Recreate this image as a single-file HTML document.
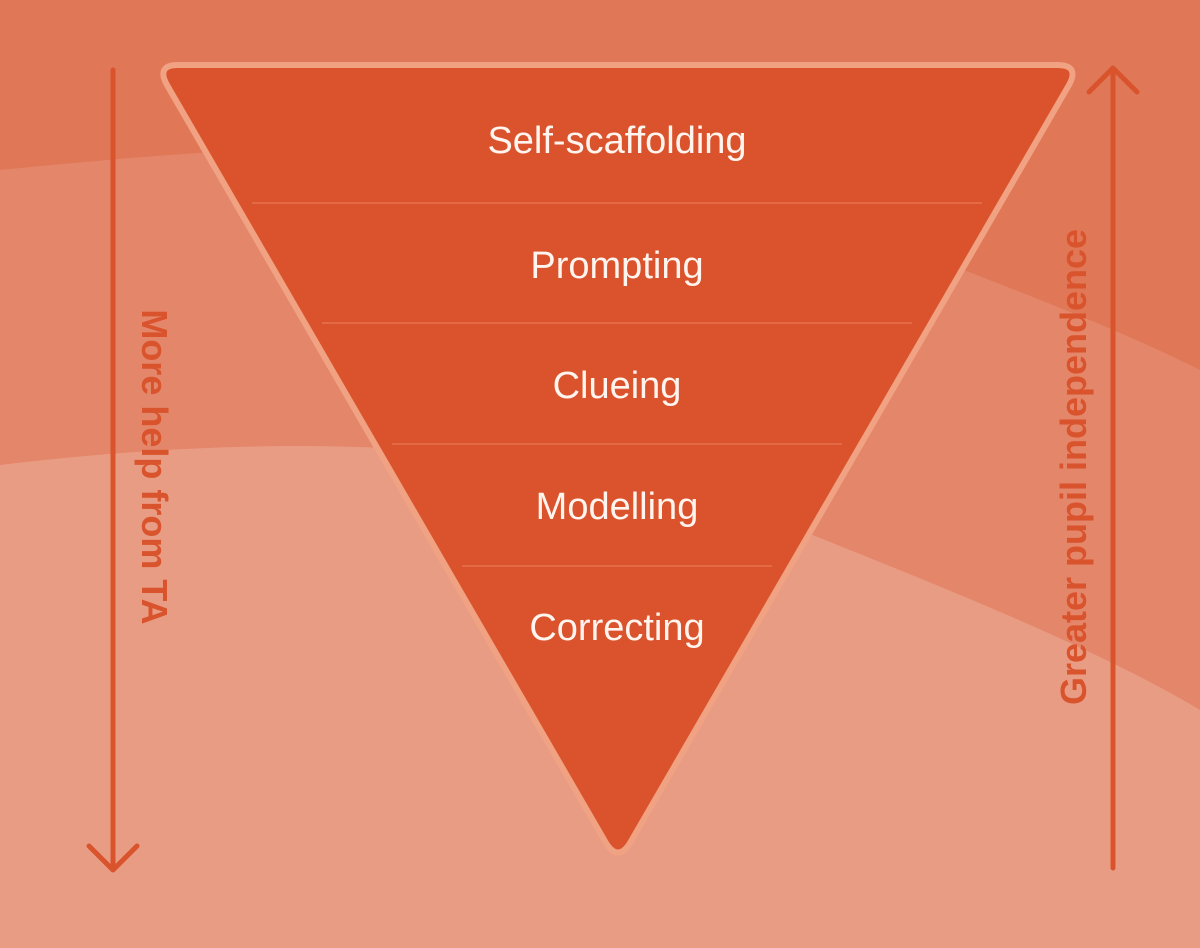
<!DOCTYPE html>
<html><head><meta charset="utf-8"><style>
html,body{margin:0;padding:0;width:1200px;height:948px;overflow:hidden;background:#e99c84}
svg{display:block}
</style></head><body>
<svg width="1200" height="948" viewBox="0 0 1200 948" xmlns="http://www.w3.org/2000/svg">
<rect width="1200" height="948" fill="#e99c84"/>
<path d="M0,465 C250,435 550,430 800,530 C950,590 1100,650 1200,710 L1200,0 L0,0 Z" fill="#e4866a"/>
<path d="M0,170 C300,140 600,120 900,245 C1000,285 1100,320 1200,370 L1200,0 L0,0 Z" fill="#e07757"/>
<path d="M178,65 L1057,65 Q1080,65 1069,85 L630,843 Q618,862 606,843 L167,85 Q156,65 178,65 Z" fill="#da532c" stroke="#f0a283" stroke-width="6" stroke-linejoin="round"/>
<g stroke="#e36a45" stroke-width="2">
<line x1="252" y1="203" x2="982" y2="203"/>
<line x1="322" y1="323" x2="912" y2="323"/>
<line x1="392" y1="444" x2="842" y2="444"/>
<line x1="462" y1="566" x2="772" y2="566"/>
</g>
<g fill="#fff4ee" font-family="Liberation Sans, sans-serif" font-size="38" text-anchor="middle">
<text x="617" y="153">Self-scaffolding</text>
<text x="617" y="278">Prompting</text>
<text x="617" y="398">Clueing</text>
<text x="617" y="519">Modelling</text>
<text x="617" y="640">Correcting</text>
</g>
<g stroke="#d9532c" stroke-width="5" fill="none" stroke-linecap="round" stroke-linejoin="round">
<line x1="113" y1="70" x2="113" y2="868"/>
<polyline points="89,846 113,870 137,846"/>
<line x1="1113" y1="70" x2="1113" y2="868"/>
<polyline points="1089,92 1113,68 1137,92"/>
</g>
<g fill="#d9532c" font-family="Liberation Sans, sans-serif" font-size="36" font-weight="bold" text-anchor="middle">
<text transform="translate(142,467) rotate(90)">More help from TA</text>
<text transform="translate(1086,467) rotate(-90)">Greater pupil independence</text>
</g>
</svg>
</body></html>
